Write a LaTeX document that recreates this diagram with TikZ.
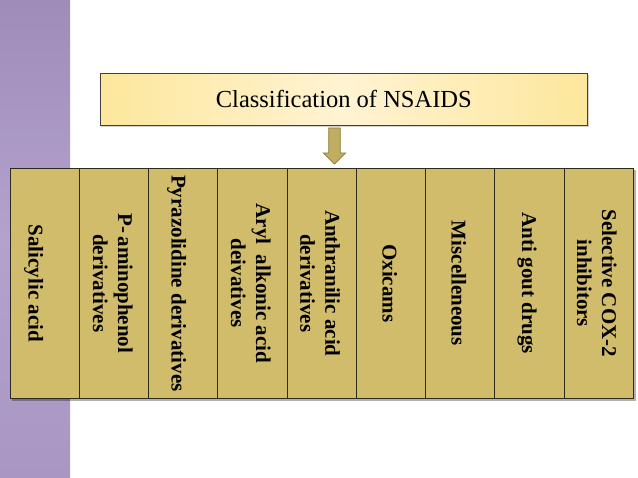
\documentclass[tikz,border=0pt]{standalone}
\usepackage{fontspec}
\setmainfont{Liberation Serif}
\usetikzlibrary{calc,shadows}
\definecolor{purpA}{HTML}{9F8CB9}
\definecolor{purpB}{HTML}{B4A2CD}
\definecolor{purpC}{HTML}{A996C3}
\definecolor{colfill}{HTML}{D0BC6B}
\definecolor{coledge}{HTML}{2E2A1C}
\definecolor{ttlA}{HTML}{FDE79C}
\definecolor{ttlB}{HTML}{FFF3D2}
\definecolor{arrfill}{HTML}{BFAE62}
\definecolor{arredge}{HTML}{8C7C3A}
\tikzset{
  colbox/.style={draw=coledge, line width=0.9pt, fill=colfill, minimum width=69.26pt, minimum height=230pt, inner sep=0pt},
  collabel/.style={rotate=-90, align=center, font=\fontsize{21}{25}\selectfont\bfseries, inner sep=0pt},
  titlebox/.style={draw=black!75, line width=0.8pt, minimum width=487.7pt, minimum height=52pt,
     left color=ttlA, right color=ttlA, middle color=ttlB, inner sep=0pt,
     drop shadow={shadow xshift=1.5pt, shadow yshift=-2pt, opacity=0.35}},
}
\begin{document}
\begin{tikzpicture}[x=1pt,y=-1pt]
\useasboundingbox (0,0) rectangle (638,478);
\fill[white] (0,0) rectangle (638,478);
% purple band
\shade[top color=purpA, bottom color=purpC, middle color=purpB] (0,0) rectangle (70,478);
% title
\node[titlebox] (title) at (343.8,99.3) {\fontsize{24.5}{28}\selectfont Classification of NSAIDS};
% column shadow
\fill[black, opacity=0.3] (12,170.3) rectangle (635.6,400.6);
% columns
\foreach \i in {1,...,9}{
  \node[colbox] (c\i) at ({10+69.26*(\i-0.5)},283.3) {};
}
% arrow
\coordinate (atop) at (334.5,128);
\coordinate (atip) at (334.5,164);
\filldraw[fill=arrfill, draw=arredge, line width=0.7pt]
  ($(atop)+(-5.8,0)$) -- ($(atop)+(5.8,0)$) -- ($(atip)+(5.8,-11)$) -- ($(atip)+(11.2,-11)$)
  -- (atip) -- ($(atip)+(-11.2,-11)$) -- ($(atip)+(-5.8,-11)$) -- cycle;
% labels
\node[collabel] (l1) at ($(c1.center)+(-11,0)$) {Salicylic acid};
\node[collabel] (l2) at ($(c2.center)+(-1,0)$) {P-\,aminophenol\\derivatives};
\node[collabel] (l3) at ($(c3.center)+(-6.5,0)$) {Pyrazolidine derivatives};
\node[collabel] (l4) at ($(c4.center)+(-1.5,0)$) {Aryl\ \ alkonic acid\\deivatives};
\node[collabel] (l5) at ($(c5.center)+(-1.5,0)$) {Anthranilic acid\\derivatives};
\node[collabel] (l6) at ($(c6.center)+(-1,0)$) {Oxicams};
\node[collabel] (l7) at ($(c7.center)+(-1.3,0)$) {Miscelleneous};
\node[collabel] (l8) at ($(c8.center)+(-2.4,0)$) {Anti gout drugs};
\node[collabel] (l9) at ($(c9.center)+(-2,0)$) {Selective COX-2\\inhibitors};
\end{tikzpicture}
\end{document}
